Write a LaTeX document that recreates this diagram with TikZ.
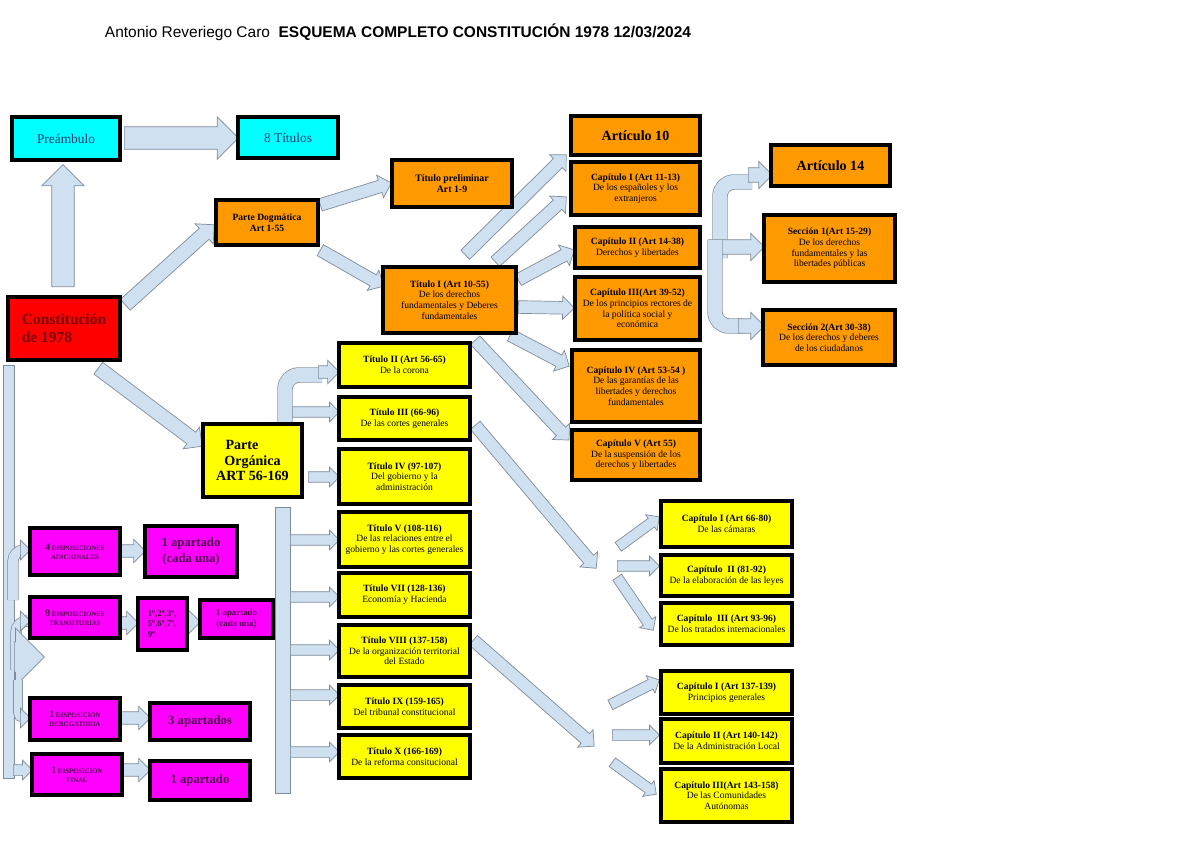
\documentclass[tikz,border=0pt]{standalone}
\usepackage{fontspec}
\setmainfont{Liberation Serif}
\newfontfamily\hdr{Liberation Sans}
\usetikzlibrary{shapes.arrows,calc}
\definecolor{ablue}{HTML}{CFE0F1}
\definecolor{aline}{HTML}{7F8C99}
\definecolor{cy}{HTML}{00FFFF}
\definecolor{orn}{HTML}{FF9900}
\definecolor{yel}{HTML}{FFFF00}
\definecolor{mag}{HTML}{FF00FF}
\definecolor{maroon}{HTML}{7A0000}
\definecolor{dblue}{HTML}{1F3A6E}
\definecolor{dpur}{HTML}{4A004A}
\tikzset{
 bx/.style={draw=black,line width=2.2pt,inner sep=0pt,align=center,font=\fontsize{6.8}{7.6}\selectfont},
 cyb/.style={bx,fill=cy,text=dblue,font=\fontsize{9.5}{11}\selectfont},
 orb/.style={bx,fill=orn},
 yeb/.style={bx,fill=yel},
 mab/.style={bx,fill=mag,text=dpur},
 farrow/.style={single arrow,draw=aline,fill=ablue,line width=0.5pt,inner xsep=0pt,anchor=tail,single arrow head indent=0pt},
 bentpipe/.style={draw=aline,line width=0.5pt,double=ablue,rounded corners=10pt},
}
\newcommand\fa[3][12]{\path let \p1=(#2), \p2=(#3), \n1={atan2(\y2-\y1,\x2-\x1)}, \n2={veclen(\x2-\x1,\y2-\y1)} in
 node[farrow,minimum height=\n2,inner ysep={#1*0.5*0.7087pt},single arrow head extend={#1*0.45*0.7087pt},rotate=\n1] at (\p1) {};}
\newcommand\B[6]{\path let \p1=(#3), \p2=(#4) in node[#2,minimum width={abs(\x2-\x1)},minimum height={abs(\y2-\y1)}] (#1) at ($(#3)!0.5!(#4)$) {#5};}
\begin{document}
\begin{tikzpicture}[x=0.025cm,y=-0.025cm]
\useasboundingbox (0,0) rectangle (1200,850);
\node[anchor=west,font=\hdr\fontsize{11}{13}\selectfont] (hd) at (100,32) {Antonio Reveriego Caro\ \ \textbf{ESQUEMA COMPLETO CONSTITUCIÓN 1978 12/03/2024}};
% arrows (behind)
\fa[22]{124,138}{238,138}
\fa[22]{63,287}{63,165}
\fa[14]{125,305}{214,225}
\fa[14]{98,368}{202,446}
\fa[12]{320,205}{391,183}
\fa[12]{320,250}{383,286}
\fa[12]{465,255}{566,155}
\fa[12]{495,262}{566,197}
\fa[12]{518,280}{574,250}
\fa[12]{518,307}{574,308}
\fa[12]{510,335}{569,366}
\fa[12]{475,340}{569,440}
% seccion branch
\draw[bentpipe,double distance=10pt] (720,258) -- (720,182) -- (752,182);
\fa[14]{748,175}{772,175}
\fa[14]{708,247}{764,247}
\draw[bentpipe,double distance=10pt] (715,240) -- (715,326) -- (742,326);
\fa[14]{738,326}{764,326}
% organica
\draw[bentpipe,double distance=10pt] (285,424) -- (285,375) -- (322,375);
\fa[12]{318,372}{339,372}
\fa[10]{292,412}{339,412}
\fa[10]{308,477}{339,477}
\draw[draw=aline,fill=ablue,line width=0.5pt] (275,507) rectangle (290,793);
\foreach \yy in {540,597,650,695,752} {\fa[10]{290,\yy}{339,\yy}}
\fa[12]{475,425}{596,568}
\fa[10]{618,547}{659,517}
\fa[10]{617,566}{659,566}
\fa[10]{617,577}{653,630}
\fa[12]{473,640}{594,746}
\fa[10]{610,705}{659,680}
\fa[10]{612,735}{659,735}
\fa[10]{612,762}{656,794}
% left bar
\draw[draw=aline,fill=ablue,line width=0.5pt] (3,365) rectangle (14,778);
\draw[bentpipe,double distance=7pt,rounded corners=8pt] (13,600) -- (13,550) -- (24,550);
\fa[10]{20,550}{30,550}
\draw[bentpipe,double distance=7pt,rounded corners=8pt] (16,670) -- (16,621) -- (24,621);
\fa[10]{20,621}{30,621}
\fa[30]{14,657}{44,657}
\draw[bentpipe,double distance=6pt,rounded corners=4pt] (18,680) -- (18,718) -- (24,718);
\fa[10]{20,718}{30,718}
\fa[10]{13,770}{32,770}
\fa[12]{120,551}{145,551}
\fa[12]{120,623}{138,623}
\fa[12]{187,622}{200,622}
\fa[12]{120,718}{150,718}
\fa[12]{122,770}{150,770}
% boxes
\B{pre}{cyb}{12,117}{120,160}{Preámbulo}{}
\B{tit}{cyb}{238,117}{338,158}{8 Títulos}{}
\B{con}{bx,fill=red,text=maroon,font=\bfseries\fontsize{11}{13}\selectfont}{8,297}{120,360}{Constitución\\de 1978\hspace*{2.2em}}{}
\B{dog}{orb}{216,200}{318,245}{\textbf{Parte Dogmática}\\\textbf{Art 1-55}}{}
\B{tpr}{orb,font=\bfseries\fontsize{7}{8}\selectfont}{392,160}{512,207}{Título preliminar\\Art 1-9}{}
\B{t1}{orb}{383,267}{516,333}{\textbf{Título I (Art 10-55)}\\De los derechos\\fundamentales y Deberes\\fundamentales}{}
\B{a10}{orb,font=\bfseries\fontsize{10}{12}\selectfont}{571,116}{700,155}{Artículo 10}{}
\B{c1}{orb}{571,162}{700,215}{\textbf{Capítulo I (Art 11-13)}\\De los españoles y los\\extranjeros}{}
\B{c2}{orb}{575,227}{700,268}{\textbf{Capítulo II (Art 14-38)}\\Derechos y libertades}{}
\B{c3}{orb}{575,277}{700,340}{\textbf{Capítulo III(Art 39-52)}\\De los principios rectores de\\la política social y\\económica}{}
\B{c4}{orb}{572,350}{700,422}{\textbf{Capítulo IV (Art 53-54 )}\\De las garantías de las\\libertades y derechos\\fundamentales}{}
\B{c5}{orb}{572,430}{700,480}{\textbf{Capítulo V (Art 55)}\\De la suspensión de los\\derechos y libertades}{}
\B{a14}{orb,font=\bfseries\fontsize{10}{12}\selectfont}{771,145}{890,186}{Artículo 14}{}
\B{s1}{orb}{764,215}{895,282}{\textbf{Sección 1(Art 15-29)}\\De los derechos\\fundamentales y las\\libertades públicas}{}
\B{s2}{orb}{763,310}{895,365}{\textbf{Sección 2(Art 30-38)}\\De los derechos y deberes\\de los ciudadanos}{}
\B{org}{yeb,font=\bfseries\fontsize{10}{11}\selectfont}{203,424}{302,497}{Parte\hspace*{1.5em}\\Orgánica\\ART 56-169}{}
\B{t2}{yeb}{339,343}{470,387}{\textbf{Título II (Art 56-65)}\\De la corona}{}
\B{t3}{yeb}{339,397}{470,440}{\textbf{Título III (66-96)}\\De las cortes generales}{}
\B{t4}{yeb}{339,449}{470,504}{\textbf{Título IV (97-107)}\\Del gobierno y la\\administración}{}
\B{t5}{yeb}{339,512}{470,567}{\textbf{Título V (108-116)}\\De las relaciones entre el\\gobierno y las cortes generales}{}
\B{t7}{yeb}{339,573}{470,617}{\textbf{Título VII (128-136)}\\Economía y Hacienda}{}
\B{t8}{yeb}{339,625}{470,677}{\textbf{Título VIII (137-158)}\\De la organización territorial\\del Estado}{}
\B{t9}{yeb}{339,685}{470,728}{\textbf{Título IX (159-165)}\\Del tribunal constitucional}{}
\B{t10}{yeb}{339,735}{470,778}{\textbf{Título X (166-169)}\\De la reforma consitucional}{}
\B{k1}{yeb}{661,501}{792,547}{\textbf{Capítulo I (Art 66-80)}\\De las cámaras}{}
\B{k2}{yeb}{661,555}{792,596}{\textbf{Capítulo\ \ II (81-92)}\\De la elaboración de las leyes}{}
\B{k3}{yeb}{661,603}{792,645}{\textbf{Capítulo\ \ III (Art 93-96)}\\De los tratados internacionales}{}
\B{m1}{yeb}{661,671}{792,714}{\textbf{Capítulo I (Art 137-139)}\\Principios generales}{}
\B{m2}{yeb}{661,719}{792,763}{\textbf{Capítulo II (Art 140-142)}\\De la Administración Local}{}
\B{m3}{yeb}{661,769}{792,822}{\textbf{Capítulo III(Art 143-158)}\\De las Comunidades\\Autónomas}{}
\B{d1}{mab,font=\bfseries\fontsize{4.8}{6.5}\selectfont}{30,528}{120,575}{{\fontsize{7}{7}\selectfont 4} DISPOSICIONES\\ADICIONALES}{}
\B{d1a}{mab,font=\bfseries\fontsize{9}{11}\selectfont}{145,526}{237,577}{1 apartado\\(cada una)}{}
\B{d2}{mab,font=\bfseries\fontsize{4.8}{6.5}\selectfont}{30,597}{120,638}{{\fontsize{7}{7}\selectfont 9} DISPOSICIONES\\TRANSITORIAS}{}
\B{d2a}{mab,align=left,font=\bfseries\fontsize{6.3}{7.5}\selectfont}{138,598}{187,650}{1º,2º,3º,\\5º,6º,7º,\\9º\hspace*{2.5em}}{}
\B{d2b}{mab,font=\bfseries\fontsize{6.3}{7.5}\selectfont}{200,600}{273,638}{1 apartado\\(cada una)}{}
\B{d3}{mab,font=\bfseries\fontsize{4.8}{6.5}\selectfont}{30,698}{120,740}{{\fontsize{7}{7}\selectfont 1} DISPOSICIÓN\\DEROGATORIA}{}
\B{d3a}{mab,font=\bfseries\fontsize{9}{11}\selectfont}{150,703}{250,740}{3 apartados}{}
\B{d4}{mab,font=\bfseries\fontsize{4.8}{6.5}\selectfont}{32,754}{122,795}{{\fontsize{7}{7}\selectfont 1} DISPOSICIÓN\\FINAL}{}
\B{d4a}{mab,font=\bfseries\fontsize{9}{11}\selectfont}{150,761}{250,800}{1 apartado}{}
\end{tikzpicture}
\end{document}
